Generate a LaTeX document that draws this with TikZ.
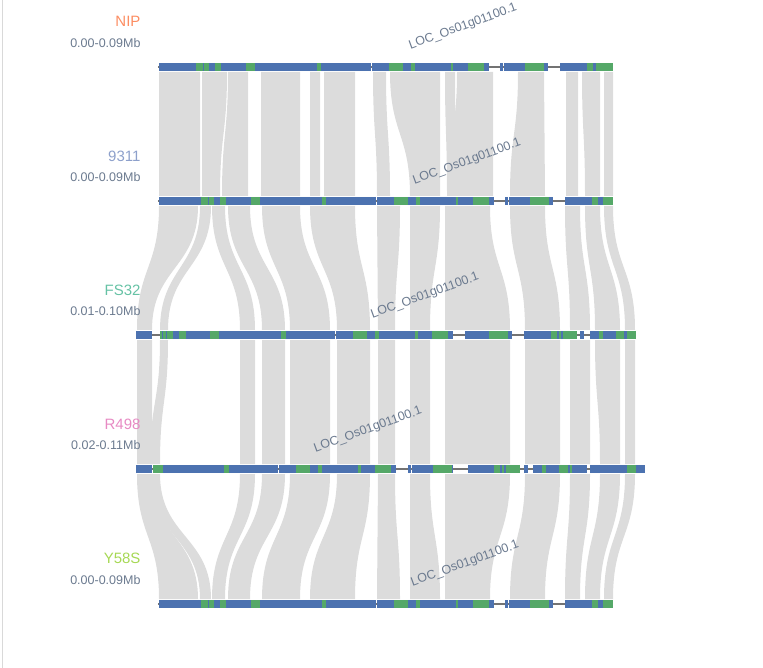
\documentclass[tikz,border=0pt]{standalone}
\usepackage{fontspec}
\setmainfont{Liberation Sans}
\definecolor{bl}{HTML}{4C72B0}
\definecolor{gr}{HTML}{55A868}
\definecolor{rb}{HTML}{DCDCDC}
\definecolor{cNIP}{HTML}{FC8D62}
\definecolor{c93}{HTML}{8DA0CB}
\definecolor{cFS}{HTML}{66C2A5}
\definecolor{cR}{HTML}{E78AC3}
\definecolor{cY}{HTML}{A6D854}
\definecolor{tx}{HTML}{6B7A8F}
\newcommand\rib[6]{\fill[rb] (#3,#1) .. controls (#3,{(#1+#2)/2}) and (#5,{(#1+#2)/2}) .. (#5,#2) -- (#6,#2) .. controls (#6,{(#1+#2)/2}) and (#4,{(#1+#2)/2}) .. (#4,#1) -- cycle;}
\newcommand\track[4]{%
 \draw[gray!90!black, line width=1.6pt] (#2,#1) -- (#3,#1);
 \foreach \a/\b/\c in {#4} {\fill[\c] (\a,#1-4) rectangle (\b,#1+4);}}
\begin{document}
\begin{tikzpicture}[x=1pt,y=-1pt,
 nm/.style={anchor=east,font=\fontsize{15}{15}\selectfont},
 rg/.style={anchor=east,text=tx,font=\fontsize{12.5}{12.5}\selectfont},
 gl/.style={rotate=20,text=tx,font=\fontsize{12.5}{12.5}\selectfont}]
\useasboundingbox (0,0) rectangle (763,668);
\draw[gray!30] (2,0) -- (2,668);
% NIP -> 9311
\foreach \a/\b/\c/\d in {159/200/159/200,202/227/202/220,228/248/222/248,261/300/261/300,310/320/310/320,324/355/324/355,373/386/377/390,390/440/410/440,445/455/447/457,457/493/447/493,518/544/510/545,566/578/566/578,582/600/585/600,604/613/604/613}
 {\rib{72}{196}{\a}{\b}{\c}{\d}}
% 9311 -> FS32
\foreach \a/\b/\c/\d in {159/198/137/152,200/211/160/168,212/225/240/255,228/250/262/285,262/300/290/330,310/355/337/370,377/400/378/395,410/440/410/430,445/490/445/510,510/545/525/560,565/580/570/590,585/600/595/620,604/613/625/635}
 {\rib{206}{330}{\a}{\b}{\c}{\d}}
% FS32 -> R498
\foreach \a/\b/\c/\d in {137/152/137/152,160/168/150/160,240/255/240/255,262/285/262/285,290/330/290/330,337/370/337/370,378/395/378/395,410/430/410/430,445/510/445/510,525/560/525/560,570/590/570/590,595/620/600/620,625/635/625/635}
 {\rib{340}{464}{\a}{\b}{\c}{\d}}
% R498 -> Y58S
\foreach \a/\b/\c/\d in {137/152/159/198,150/160/200/211,240/255/212/225,262/285/228/250,290/330/262/300,337/370/310/355,378/395/377/400,410/430/410/440,445/510/445/490,525/560/510/545,570/590/565/580,600/620/585/600,625/635/604/613}
 {\rib{474}{599}{\a}{\b}{\c}{\d}}
% tracks
\track{67}{158}{613}{159/371/bl,196/203/gr,204/209/gr,215/221/gr,246/255/gr,317/321/gr,372/489/bl,389/403/gr,411/415/gr,451/453/gr,468/484/gr,500/503/bl,504/548/bl,525/544/gr,560/613/bl,587/593/gr,596/613/gr}
\track{201}{158}{613}{159/376/bl,201/208/gr,209/214/gr,220/226/gr,251/260/gr,322/326/gr,377/494/bl,394/408/gr,416/420/gr,456/458/gr,473/489/gr,505/508/bl,509/553/bl,530/549/gr,565/613/bl,592/598/gr,603/613/gr}
\track{335}{136}{636}{136/152/bl,160/335/bl,160/162/gr,163/166/gr,167/173/gr,179/186/gr,210/219/gr,281/286/gr,336/453/bl,353/367/gr,375/379/gr,415/418/gr,432/448/gr,465/512/bl,489/508/gr,524/577/bl,551/557/gr,559/561/gr,563/577/gr,580/584/bl,590/636/bl,599/603/gr,616/624/gr,627/636/gr}
\track{469}{136}{645}{136/152/bl,153/163/gr,163/278/bl,224/229/gr,279/396/bl,296/310/gr,318/322/gr,358/361/gr,375/391/gr,408/411/bl,412/453/bl,433/452/gr,468/520/bl,494/500/gr,502/504/gr,506/520/gr,524/528/bl,533/587/bl,542/546/gr,559/568/gr,570/572/gr,590/645/bl,627/636/gr}
\track{604}{158}{613}{159/376/bl,201/208/gr,209/214/gr,220/226/gr,251/260/gr,322/326/gr,377/494/bl,394/408/gr,416/420/gr,456/458/gr,473/489/gr,505/508/bl,509/553/bl,530/549/gr,565/613/bl,592/598/gr,603/613/gr}
% labels
\node[nm,text=cNIP] (n1) at (144,21) {NIP};
\node[rg] (r1) at (144,43) {0.00-0.09Mb};
\node[nm,text=c93] (n2) at (144,156) {9311};
\node[rg] (r2) at (144,177) {0.00-0.09Mb};
\node[nm,text=cFS] (n3) at (144,290) {FS32};
\node[rg] (r3) at (144,311) {0.01-0.10Mb};
\node[nm,text=cR] (n4) at (144,424) {R498};
\node[rg] (r4) at (144,445) {0.02-0.11Mb};
\node[nm,text=cY] (n5) at (144,558) {Y58S};
\node[rg] (r5) at (144,580) {0.00-0.09Mb};
\node[gl] (g1) at (463,27) {LOC\_Os01g01100.1};
\node[gl] (g2) at (467,162) {LOC\_Os01g01100.1};
\node[gl] (g3) at (425,296) {LOC\_Os01g01100.1};
\node[gl] (g4) at (368,430) {LOC\_Os01g01100.1};
\node[gl] (g5) at (465,564) {LOC\_Os01g01100.1};
\end{tikzpicture}
\end{document}
